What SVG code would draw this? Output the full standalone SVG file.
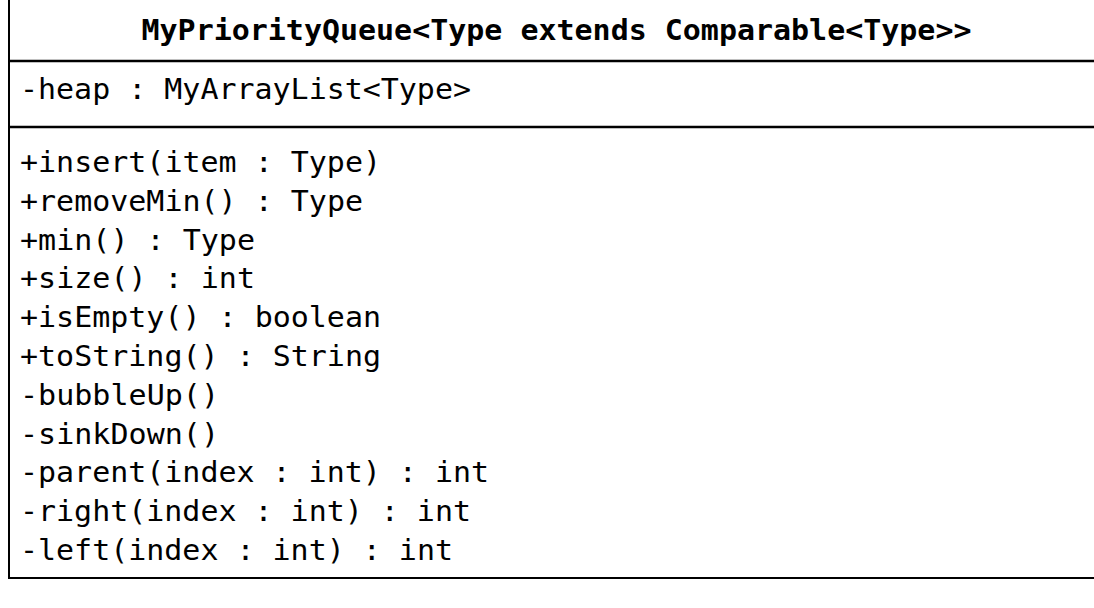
<svg xmlns="http://www.w3.org/2000/svg" width="1094" height="608" viewBox="0 0 1094 608">
<style>
.frame{fill:#fff;stroke:#000;stroke-width:2}
.sep{stroke:#000;stroke-width:2.5}
.t{font-family:"DejaVu Sans Mono","Liberation Mono",monospace;font-size:29px;fill:#000}
.title{font-weight:bold}
</style>
<rect width="1094" height="608" fill="#fff"/>
<g id="class-MyPriorityQueue">
<rect class="frame" x="9" y="-10" width="1100" height="588"/>
<line class="sep" x1="9" y1="61" x2="1094" y2="61"/>
<line class="sep" x1="9" y1="127" x2="1094" y2="127"/>
<text class="t title" x="556.5" y="40" text-anchor="middle" textLength="830" lengthAdjust="spacingAndGlyphs">MyPriorityQueue&lt;Type extends Comparable&lt;Type&gt;&gt;</text>
<text class="t" x="20" y="99" textLength="451" lengthAdjust="spacingAndGlyphs">-heap : MyArrayList&lt;Type&gt;</text>
<text class="t" x="20" y="172" textLength="361" lengthAdjust="spacingAndGlyphs">+insert(item : Type)</text>
<text class="t" x="20" y="210.8" textLength="343" lengthAdjust="spacingAndGlyphs">+removeMin() : Type</text>
<text class="t" x="20" y="249.6" textLength="235" lengthAdjust="spacingAndGlyphs">+min() : Type</text>
<text class="t" x="20" y="288.4" textLength="235" lengthAdjust="spacingAndGlyphs">+size() : int</text>
<text class="t" x="20" y="327.2" textLength="361" lengthAdjust="spacingAndGlyphs">+isEmpty() : boolean</text>
<text class="t" x="20" y="366" textLength="361" lengthAdjust="spacingAndGlyphs">+toString() : String</text>
<text class="t" x="20" y="404.8" textLength="199" lengthAdjust="spacingAndGlyphs">-bubbleUp()</text>
<text class="t" x="20" y="443.6" textLength="199" lengthAdjust="spacingAndGlyphs">-sinkDown()</text>
<text class="t" x="20" y="482.4" textLength="469" lengthAdjust="spacingAndGlyphs">-parent(index : int) : int</text>
<text class="t" x="20" y="521.2" textLength="451" lengthAdjust="spacingAndGlyphs">-right(index : int) : int</text>
<text class="t" x="20" y="560" textLength="433" lengthAdjust="spacingAndGlyphs">-left(index : int) : int</text>
</g>
<g id="connectors"/>
</svg>
